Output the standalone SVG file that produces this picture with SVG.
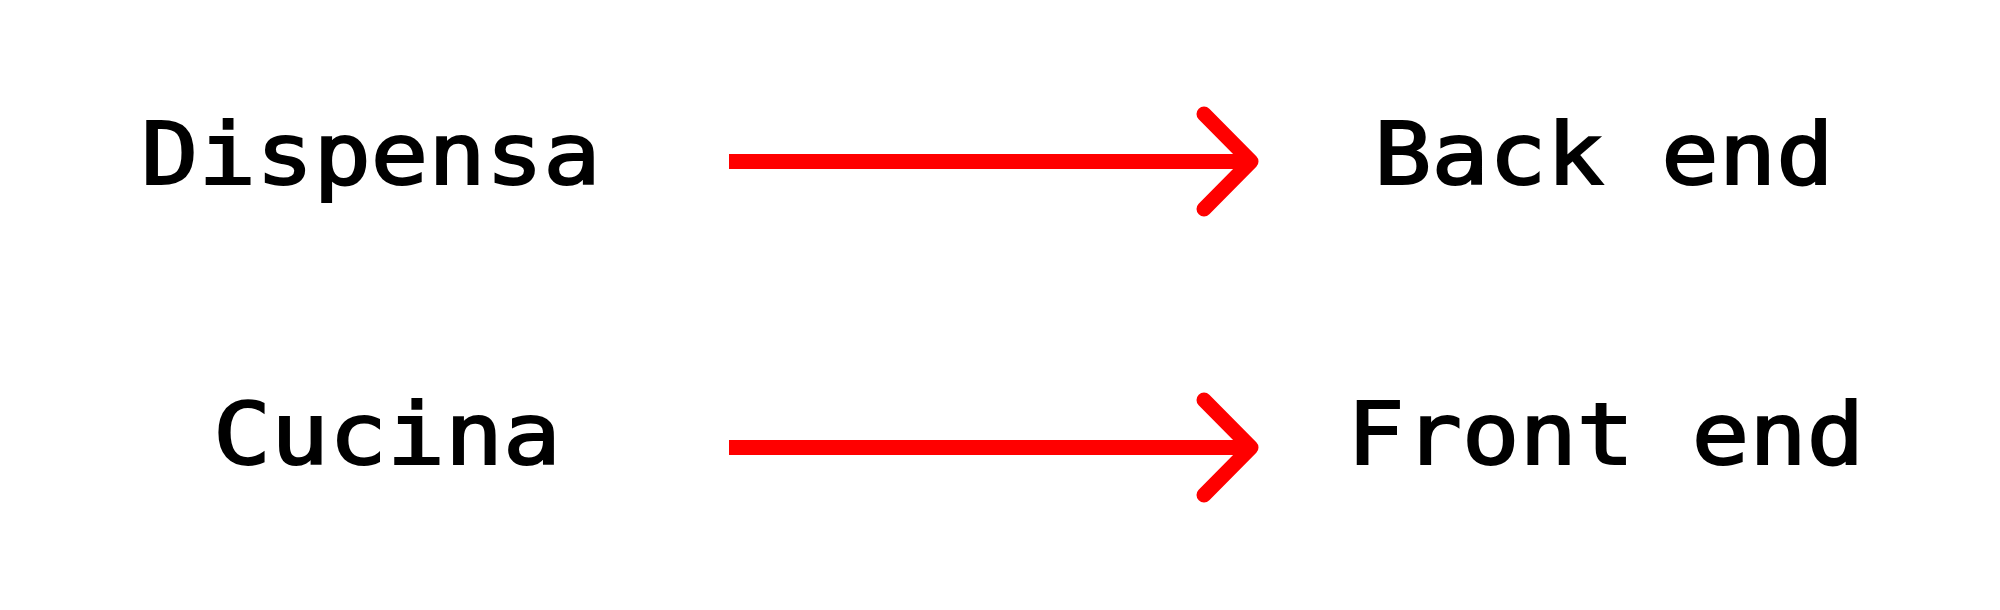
<svg xmlns="http://www.w3.org/2000/svg" width="2000" height="610" viewBox="0 0 2000 610">
  <style>
    .lbl { font-family: "DejaVu Sans Mono", "Liberation Mono", monospace; font-size: 86px; fill: #000000; stroke: #000000; stroke-width: 2px; }
    .edge { stroke: #ff0000; stroke-width: 15; fill: none; }
  </style>
  <defs>
    <marker id="chev" markerUnits="userSpaceOnUse" markerWidth="120" markerHeight="120" viewBox="-60 -60 120 120" refX="0" refY="0" orient="auto" overflow="visible">
      <path d="M-47,-47.5 L0,0 L-47,47.5" fill="none" stroke="#ff0000" stroke-width="15" stroke-linecap="round" stroke-linejoin="round"/>
    </marker>
  </defs>
  <rect x="0" y="0" width="2000" height="610" fill="#ffffff"/>
  <g id="node-dispensa"><text class="lbl" transform="translate(141,184) scale(1.11,1)">Dispensa</text></g>
  <g id="node-cucina"><text class="lbl" transform="translate(213,464) scale(1.12,1)">Cucina</text></g>
  <g id="node-backend"><text class="lbl" transform="translate(1374,184) scale(1.11,1)">Back end</text></g>
  <g id="node-frontend"><text class="lbl" transform="translate(1347,464) scale(1.11,1)">Front end</text></g>
  <g id="connectors">
    <path class="edge" d="M729,161.5 H1251" marker-end="url(#chev)"/>
    <path class="edge" d="M729,447.5 H1251" marker-end="url(#chev)"/>
  </g>
</svg>
